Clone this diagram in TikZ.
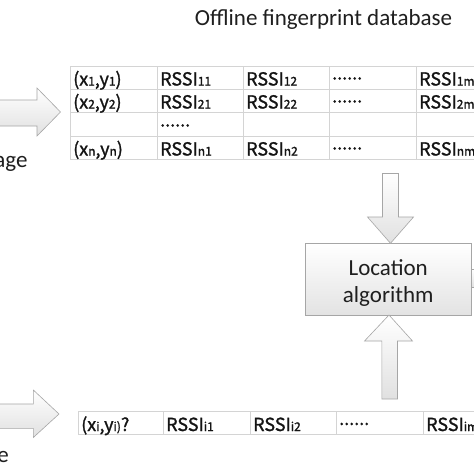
\documentclass[tikz,border=0pt]{standalone}
\usepackage{fontspec}
\setmainfont{Carlito}
\newfontfamily\tabfont[FakeBold=1.3]{Noto Sans CJK SC}
\newcommand{\smallsub}[1]{{\fontsize{12}{12}\selectfont #1}}
\newcommand{\sixdots}{\raisebox{6pt}{......}}
\begin{document}
\begin{tikzpicture}[x=1pt,y=-1pt,
  gridline/.style={draw=black!17, line width=0.8pt},
  cell/.style={anchor=base west, inner sep=0pt, font=\tabfont\fontsize{18}{18}\selectfont, text=black!92},
  blockarrow/.style={draw=black!35, line width=0.6pt, top color=white, bottom color=black!12},
  bigtext/.style={font=\fontsize{23}{26.7}\selectfont, text=black!88, inner sep=0pt},
  locbox/.style={draw=black!35, line width=0.7pt, top color=white, bottom color=black!11,
     minimum width=165.7pt, minimum height=71.7pt, inner sep=0pt}]
\useasboundingbox (0,0) rectangle (474,474);
\fill[white] (0,0) rectangle (474,474);

% title
\node[bigtext, anchor=base] (title) at (323.5,25) {Offline fingerprint database};
\node[bigtext, anchor=base east] (stage1) at (27.7,167) {age};
\node[bigtext, anchor=base east] (stage2) at (9,462) {e};

% offline table grid
\foreach \y in {66,89,112,136,159} \draw[gridline] (70,\y) -- (520,\y);
\foreach \x in {70,157,243,329,416} \draw[gridline] (\x,66) -- (\x,159);

% row 1
\node[cell] (a11) at (73,85.5) {(x\smallsub{1},y\smallsub{1})};
\node[cell] (a12) at (160,85.5) {RSSI\smallsub{11}};
\node[cell] (a13) at (246,85.5) {RSSI\smallsub{12}};
\node[cell] (a14) at (332,85.5) {\sixdots};
\node[cell] (a15) at (419,85.5) {RSSI\smallsub{1m}};
% row 2
\node[cell] (a21) at (73,108.5) {(x\smallsub{2},y\smallsub{2})};
\node[cell] (a22) at (160,108.5) {RSSI\smallsub{21}};
\node[cell] (a23) at (246,108.5) {RSSI\smallsub{22}};
\node[cell] (a24) at (332,108.5) {\sixdots};
\node[cell] (a25) at (419,108.5) {RSSI\smallsub{2m}};
% row 3
\node[cell] (a32) at (160,132.5) {\sixdots};
% row 4
\node[cell] (a41) at (73,155.5) {(x\smallsub{n},y\smallsub{n})};
\node[cell] (a42) at (160,155.5) {RSSI\smallsub{n1}};
\node[cell] (a43) at (246,155.5) {RSSI\smallsub{n2}};
\node[cell] (a44) at (332,155.5) {\sixdots};
\node[cell] (a45) at (419,155.5) {RSSI\smallsub{nm}};

% online table grid
\foreach \y in {411.5,434.5} \draw[gridline] (78,\y) -- (520,\y);
\foreach \x in {78,163,250,336,423} \draw[gridline] (\x,411.5) -- (\x,434.5);
\node[cell] (b1) at (81,431) {(x\smallsub{i},y\smallsub{i)}?};
\node[cell] (b2) at (166,431) {RSSI\smallsub{i1}};
\node[cell] (b3) at (253,431) {RSSI\smallsub{i2}};
\node[cell] (b4) at (339,431) {\sixdots};
\node[cell] (b5) at (426,431) {RSSI\smallsub{im}};

% location algorithm box
\node[locbox] (loc) at (388.2,279.2) {};
\node[bigtext, align=center] (loctext) at (388.2,283) {Location\\algorithm};

% block arrows
\draw[blockarrow] (-5,100) -- (37,100) -- (37,88) -- (60.5,112) -- (37,136) -- (37,126) -- (-5,126) -- cycle;
\draw[blockarrow] (-5,404) -- (33.3,404) -- (33.3,390) -- (59,414) -- (33.3,437.5) -- (33.3,428.3) -- (-5,428.3) -- cycle;
\draw[blockarrow] (382.5,173.5) -- (398.5,173.5) -- (398.5,217) -- (413.5,217) -- (390.5,243.3) -- (367.5,217) -- (382.5,217) -- cycle;
\draw[blockarrow] (381.8,399) -- (381.8,341) -- (364.5,341) -- (389,315) -- (412.5,341) -- (397.5,341) -- (397.5,399) -- cycle;
\draw[blockarrow] (471,269.5) -- (480,269.5) -- (480,287.7) -- (471,287.7) -- cycle;
\end{tikzpicture}
\end{document}
